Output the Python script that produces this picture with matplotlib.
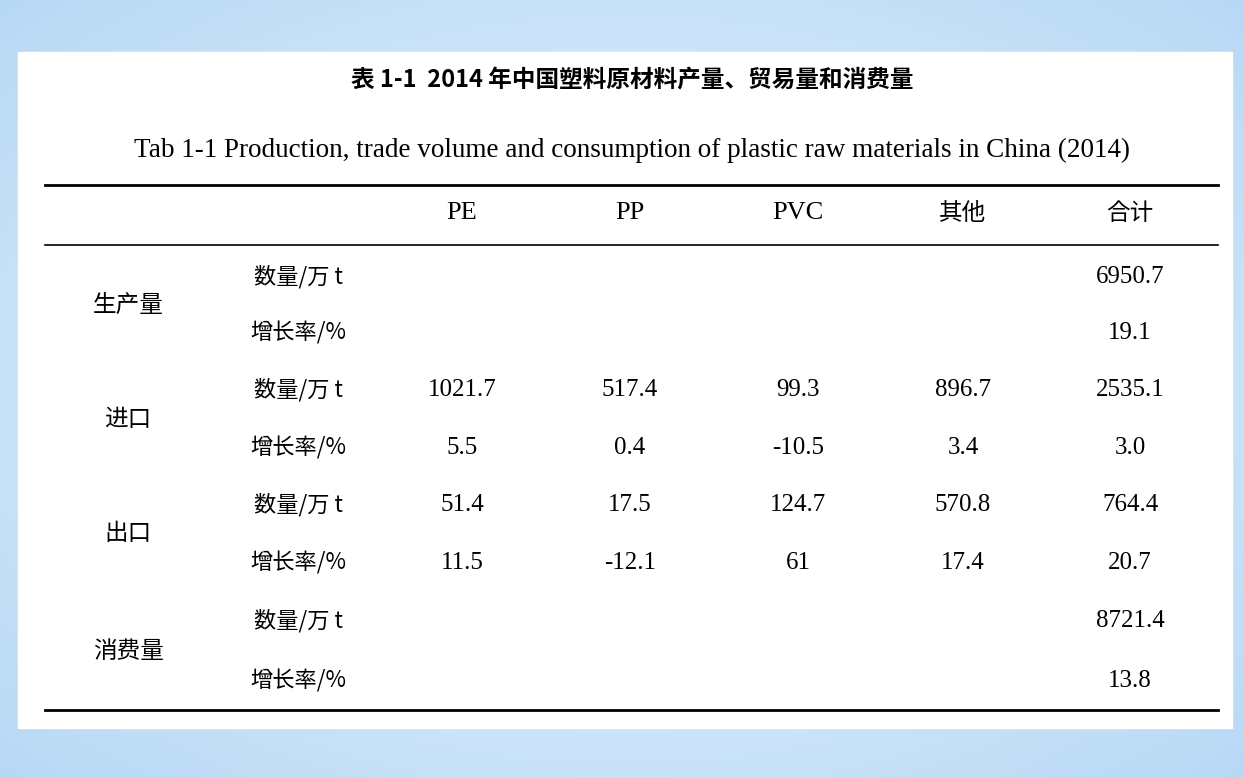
import numpy as np
import matplotlib
matplotlib.use("Agg")
import matplotlib.pyplot as plt

W, H = 1244, 778

TITLE = "表 1-1  2014 年中国塑料原材料产量、贸易量和消费量"
SUBTITLE = "Tab 1-1 Production, trade volume and consumption of plastic raw materials in China (2014)"
columns = ["PE", "PP", "PVC", "其他", "合计"]
groups = ["生产量", "进口", "出口", "消费量"]
sub_labels = ["数量/万 t", "增长率/%"]
rows = [
    ["", "", "", "", "6950.7"],
    ["", "", "", "", "19.1"],
    ["1021.7", "517.4", "99.3", "896.7", "2535.1"],
    ["5.5", "0.4", "-10.5", "3.4", "3.0"],
    ["51.4", "17.5", "124.7", "570.8", "764.4"],
    ["11.5", "-12.1", "61", "17.4", "20.7"],
    ["", "", "", "", "8721.4"],
    ["", "", "", "", "13.8"],
]

CJK = ["Noto Sans CJK SC", "Noto Sans CJK JP", "Noto Sans CJK TC",
       "Noto Sans CJK KR", "DejaVu Sans"]
SERIF = "Liberation Serif"

fig = plt.figure(figsize=(W / 100, H / 100), dpi=100)
ax = fig.add_axes([0, 0, 1, 1])
ax.set_xlim(0, W)
ax.set_ylim(H, 0)
ax.axis("off")

# light blue background with soft gradient
yy, xx = np.mgrid[0:H:4, 0:W:4]
d = np.hypot((xx - W / 2) / W, (yy - H / 2) / H)
c0 = np.array([0.93, 0.97, 1.0])
c1 = np.array([0.72, 0.85, 0.96])
t = np.clip(d / 0.7, 0, 1)[..., None]
bg = c0 * (1 - t) + c1 * t
ax.imshow(bg, extent=(0, W, H, 0), aspect="auto", zorder=0)
ax.add_patch(plt.Rectangle((18, 52), 1214, 676, color="white", zorder=1))

ax.text(W / 2 + 10, 80, TITLE, fontfamily=CJK, fontweight="bold", fontsize=17,
        ha="center", va="center", zorder=2)
ax.text(632, 150, SUBTITLE, fontfamily=SERIF, fontsize=19.5,
        ha="center", va="center", zorder=2)

for y, lw in [(185, 2.0), (245, 1.2), (710, 2.0)]:
    ax.plot([45, 1218], [y, y], color="black", lw=lw, zorder=2)

col_x = [462, 630, 798, 963, 1130]
for x, c in zip(col_x, columns):
    cjk = any(ord(ch) > 127 for ch in c)
    ax.text(x, 213, c, fontfamily=CJK if cjk else SERIF, fontsize=17 if cjk else 19,
            ha="center", va="center", zorder=2)

row_y = [277, 333, 390, 448, 505, 563, 621, 681]
for i, g in enumerate(groups):
    ax.text(128, (row_y[2 * i] + row_y[2 * i + 1]) / 2, g, fontfamily=CJK,
            fontsize=17, ha="center", va="center", zorder=2)
for i, (y, vals) in enumerate(zip(row_y, rows)):
    ax.text(298, y, sub_labels[i % 2], fontfamily=CJK, fontsize=16,
            ha="center", va="center", zorder=2)
    for x, v in zip(col_x, vals):
        ax.text(x, y, v, fontfamily=SERIF, fontsize=18, ha="center", va="center", zorder=2)

fig.savefig("out.png", dpi=100)
